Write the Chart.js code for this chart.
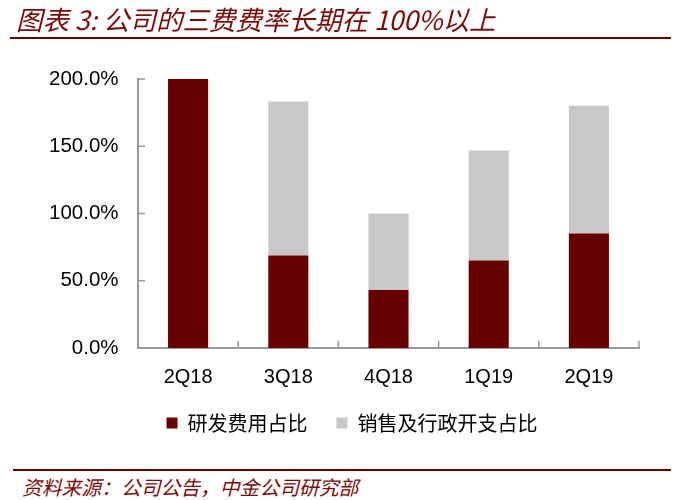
<!DOCTYPE html>
<html><head><meta charset="utf-8">
<script src="https://cdn.jsdelivr.net/npm/chart.js@4/dist/chart.umd.min.js"></script>
<style>
body{margin:0;width:681px;height:500px;background:#fff;position:relative;overflow:hidden;font-family:"Noto Sans CJK SC",sans-serif;}
#title{position:absolute;left:16px;top:-1px;font-size:26.5px;color:#7a0a0a;font-style:italic;white-space:nowrap;}
#tline{position:absolute;left:10px;top:37px;width:661px;height:2px;background:#6b0000;}
#fline{position:absolute;left:13px;top:469px;width:658px;height:2px;background:#6b0000;}
#src{position:absolute;left:22px;top:472px;font-size:19.8px;color:#7a0a0a;font-style:italic;white-space:nowrap;}
#wrap{position:absolute;left:0;top:0;width:681px;height:443px;}
</style></head><body>
<div id="wrap"><canvas id="c"></canvas></div>
<div id="title">图表 3:  公司的三费费率长期在 100%以上</div>
<div id="tline"></div>
<div id="fline"></div>
<div id="src">资料来源：公司公告，中金公司研究部</div>
<script>
const categories = ["2Q18","3Q18","4Q18","1Q19","2Q19"];
const rdShare = [200.0, 68.8, 43.1, 65.0, 85.2];
const sgaShare = [0, 114.4, 56.9, 81.8, 95.0];
const seriesNames = ["研发费用占比","销售及行政开支占比"];
const yTicks = [0,50,100,150,200];

const innerTicks = {
  id: 'innerTicks',
  afterDatasetsDraw(chart) {
    const ctx = chart.ctx, x = chart.scales.x, y = chart.scales.y;
    ctx.save();
    ctx.strokeStyle = '#999'; ctx.lineWidth = 1.5;
    ctx.beginPath();
    yTicks.forEach(v => { const py = y.getPixelForValue(v); ctx.moveTo(x.left, py); ctx.lineTo(x.left + 7, py); });
    for (let i = 1; i <= categories.length; i++) {
      const px = x.left + (x.right - x.left) * i / categories.length;
      ctx.moveTo(px, y.bottom); ctx.lineTo(px, y.bottom - 7);
    }
    ctx.stroke();
    ctx.restore();
  }
};

new Chart(document.getElementById('c'), {
  type: 'bar',
  data: {
    labels: categories,
    datasets: [
      {label: seriesNames[0] + '  ', data: rdShare, backgroundColor: '#660000', barPercentage: 0.4, categoryPercentage: 1.0},
      {label: seriesNames[1], data: sgaShare, backgroundColor: '#c8c8c8', barPercentage: 0.4, categoryPercentage: 1.0}
    ]
  },
  plugins: [innerTicks],
  options: {
    responsive: true, maintainAspectRatio: false, animation: false,
    layout: {padding: {top: 79, right: 42, bottom: 0, left: 65}},
    plugins: {
      tooltip: {enabled: false},
      legend: {
        position: 'bottom',
        labels: {boxWidth: 11, boxHeight: 11, color: '#000', padding: 20,
          font: {family: '"Noto Sans CJK SC", serif', size: 20}}
      }
    },
    scales: {
      x: {
        stacked: true,
        grid: {display: false},
        border: {color: '#999', width: 2},
        ticks: {color: '#000', font: {family: '"Liberation Sans", Arial', size: 20}, padding: 9},
        afterFit: s => { s.height = 45; }
      },
      y: {
        stacked: true, min: 0, max: 200,
        afterBuildTicks: s => { s.ticks = yTicks.map(v => ({value: v})); },
        grid: {display: false},
        border: {color: '#999', width: 2},
        ticks: {color: '#000', font: {family: '"Liberation Sans", Arial', size: 20.5},
          mirror: true, crossAlign: 'far', padding: -89,
          callback: v => v.toFixed(1) + '%'},
        afterFit: s => { s.width = 73; }
      }
    }
  }
});
</script>
</body></html>
